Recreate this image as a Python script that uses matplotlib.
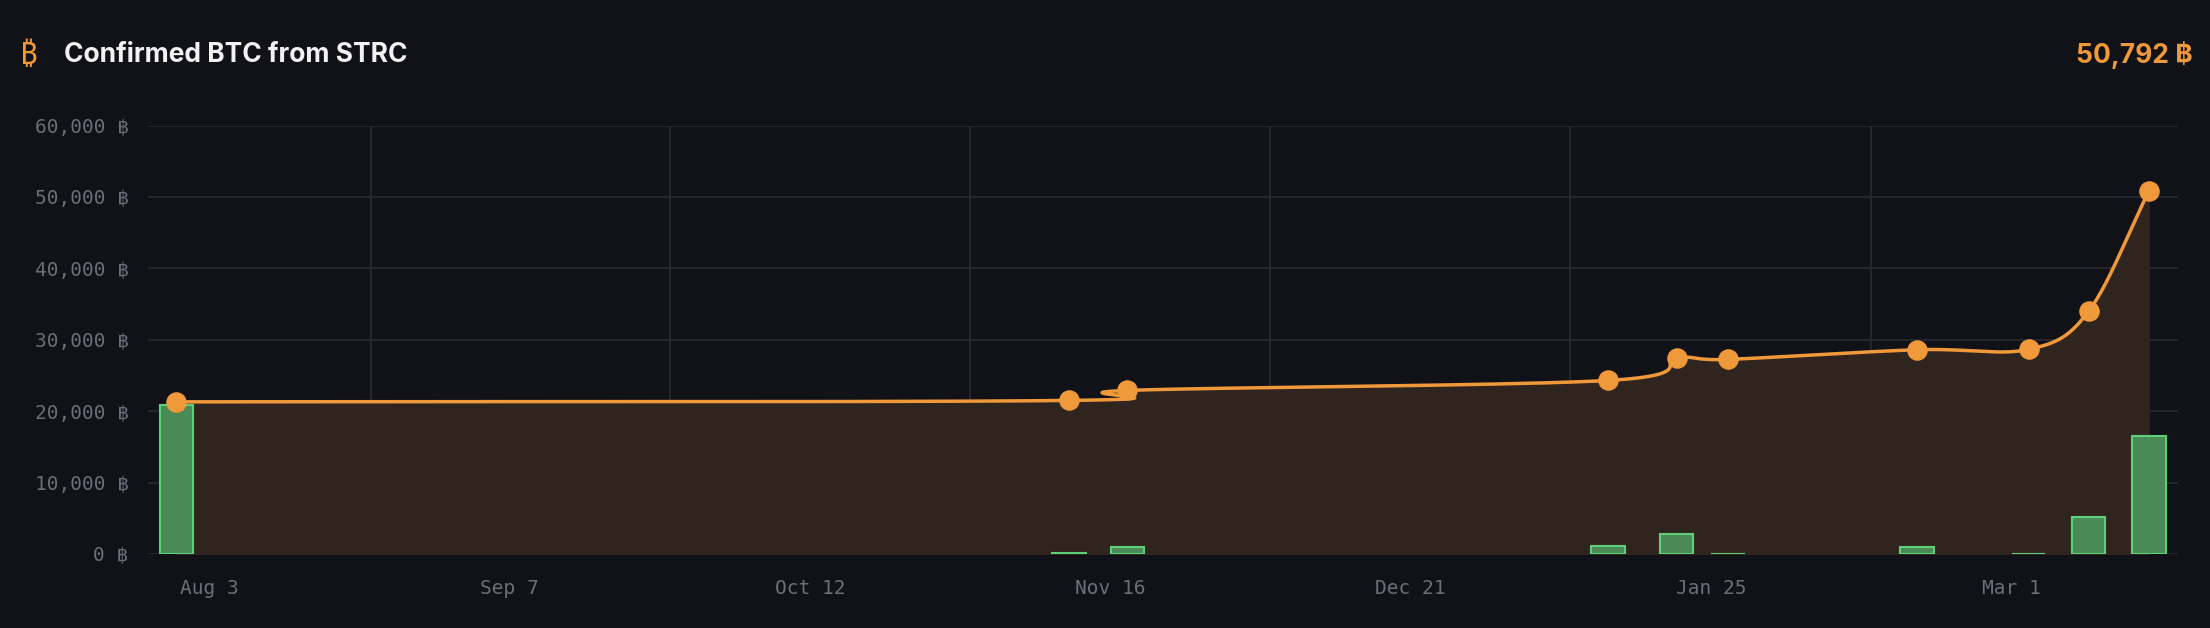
import numpy as np
import matplotlib
matplotlib.use("Agg")
import matplotlib.pyplot as plt

# days counted from Aug 3
days = [-3.8, 100.2, 107.0, 163.0, 171.0, 177.0, 199.0, 212.0, 219.0, 226.0]
purchased = [20900, 100, 1000, 1100, 2800, 50, 900, 30, 5100, 16500]
cumulative = [21300, 21500, 22900, 24300, 27400, 27250, 28600, 28650, 34000, 50792]
tick_days = [0, 35, 70, 105, 140, 175, 210]
tick_labels = ["Aug 3", "Sep 7", "Oct 12", "Nov 16", "Dec 21", "Jan 25", "Mar 1"]
grid_days = [18.9, 53.7, 88.7, 123.6, 158.6, 193.6]
yticks = [0, 10000, 20000, 30000, 40000, 50000, 60000]

BG = "#111118"
GRID = "#25252c"
ORANGE = "#f0993a"
MONO = ["DejaVu Sans Mono", "DejaVu Sans"]


def catmull_rom(x, y, n=30):
    x = np.asarray(x, float); y = np.asarray(y, float)
    px = np.concatenate([[2 * x[0] - x[1]], x, [2 * x[-1] - x[-2]]])
    py = np.concatenate([[2 * y[0] - y[1]], y, [2 * y[-1] - y[-2]]])
    xs, ys = [], []
    t = np.linspace(0, 1, n)
    for i in range(1, len(px) - 2):
        for p, out in ((px, xs), (py, ys)):
            p0, p1, p2, p3 = p[i - 1], p[i], p[i + 1], p[i + 2]
            out.append(0.5 * (2 * p1 + (-p0 + p2) * t + (2 * p0 - 5 * p1 + 4 * p2 - p3) * t ** 2
                              + (-p0 + 3 * p1 - 3 * p2 + p3) * t ** 3))
    return np.concatenate(xs), np.concatenate(ys)


fig = plt.figure(figsize=(22.1, 6.28), dpi=100, facecolor=BG)
ax = fig.add_axes([0.067, 0.118, 0.9185, 0.682])
ax.set_facecolor(BG)

sx, sy = catmull_rom(days, cumulative)
ax.fill_between(sx, 0, sy, color="#30251e", zorder=1)
ax.bar(days, purchased, width=3.9, color="#4a8a57", edgecolor="#5fd07a",
       linewidth=1.5, zorder=2)
ax.plot(sx, sy, color=ORANGE, lw=2.5, zorder=3)
ax.scatter(days, cumulative, s=190, color=ORANGE, zorder=4)

ax.set_xlim(-7.1, 229.4)
ax.set_ylim(0, 60000)
ax.set_yticks(yticks)
ax.set_yticklabels([f"{v:,} ฿" for v in yticks], family=MONO, fontsize=14, color="#6b6f7a")
ax.set_xticks(tick_days)
ax.set_xticklabels(tick_labels, family=MONO, fontsize=14, color="#6b6f7a")
ax.tick_params(length=0, pad=14)
ax.tick_params(axis="x", pad=18)
ax.set_xticks(grid_days, minor=True)
ax.tick_params(which="minor", length=0)
ax.grid(axis="y", color=GRID, lw=1.5, zorder=0)
ax.grid(axis="x", which="minor", color=GRID, lw=1.5, zorder=0)
ax.grid(axis="x", which="major", visible=False)
ax.set_axisbelow(True)
for s in ax.spines.values():
    s.set_visible(False)

fig.text(0.009, 0.912, "₿", color=ORANGE, fontsize=22, fontweight="bold",
         family=["DejaVu Sans", "Noto Sans"], va="center")
fig.text(0.029, 0.912, "Confirmed BTC from STRC", color="#f2f2f2", fontsize=19,
         fontweight="bold", family=["Inter", "DejaVu Sans"], va="center")
fig.text(0.992, 0.912, f"{cumulative[-1]:,} ฿", color=ORANGE, fontsize=19,
         fontweight="bold", family=["Inter", "DejaVu Sans"], va="center", ha="right")

fig.savefig("out.png", dpi=100, facecolor=BG)
